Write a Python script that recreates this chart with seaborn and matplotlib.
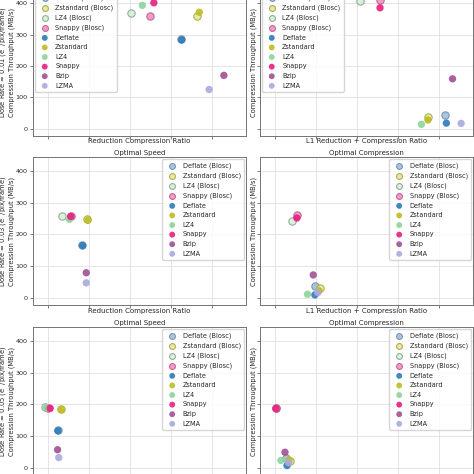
import numpy as np
import pandas as pd
import matplotlib
matplotlib.use("Agg")
import matplotlib.pyplot as plt
import seaborn as sns

# ---------------------------------------------------
# DATOS
# ---------------------------------------------------
METHODS = ['Deflate (Blosc)', 'Zstandard (Blosc)', 'LZ4 (Blosc)', 'Snappy (Blosc)',
           'Deflate', 'Zstandard', 'LZ4', 'Snappy', 'Bzip', 'LZMA']
DOSE_RATES = ['0.01', '0.03', '0.05']

# fila 1: dose rate 0.01
speed_001_x = [4.24, 4.64, 3.02, 3.49, 4.26, 4.69, 3.30, 3.58, 5.29, 4.93]
speed_001_y = [287, 358, 368, 359, 283, 371, 393, 401, 170, 125]
comp_001_x = [5.15, 4.74, 3.08, 3.55, 5.18, 4.73, 4.57, 3.56, 5.33, 5.54]
comp_001_y = [45, 39, 408, 410, 18, 28, 14, 385, 159, 17]

# fila 2: dose rate 0.03
speed_003_x = [1.83, 1.94, 1.34, 1.55, 1.84, 1.97, 1.52, 1.55, 1.93, 1.93]
speed_003_y = [167, 249, 259, 260, 165, 245, 248, 257, 79, 47]
comp_003_x = [1.97, 2.09, 1.41, 1.53, 1.97, 2.07, 1.79, 1.53, 1.93, 2.04]
comp_003_y = [38, 30, 243, 261, 9, 22, 11, 252, 72, 16]

# fila 3: dose rate 0.05
speed_005_x = [1.23, 1.31, 0.93, 1.00, 1.24, 1.32, 0.96, 1.05, 1.23, 1.26]
speed_005_y = [118, 186, 191, 190, 117, 184, 190, 188, 57, 32]
comp_005_x = [1.27, 1.37, 1.01, 1.02, 1.29, 1.34, 1.14, 1.02, 1.24, 1.33]
comp_005_y = [32, 21, 188, 190, 7, 25, 23, 187, 49, 16]
# ---------------------------------------------------

FACE = {'Deflate (Blosc)': '#a3bfdc', 'Zstandard (Blosc)': '#e6e6a4',
        'LZ4 (Blosc)': '#d8eedb', 'Snappy (Blosc)': '#ef94c2',
        'Deflate': '#2b7bba', 'Zstandard': '#bcbd22', 'LZ4': '#8ed49c',
        'Snappy': '#e6207f', 'Bzip': '#a05195', 'LZMA': '#aaaadf'}
EDGE = {'Deflate (Blosc)': '#6f8fb0', 'Zstandard (Blosc)': '#a9a93c',
        'LZ4 (Blosc)': '#8aa88f', 'Snappy (Blosc)': '#c05a8e'}


def build_df(x, y):
    return pd.DataFrame({'method': METHODS, 'ratio': x, 'throughput': y})


def plot_panel(ax, df, title, xlabel, ylabel, legend_loc, show_ylabels, h_px, ylab_px):
    for m in METHODS:
        sub = df[df['method'] == m]
        if m in EDGE:
            sns.scatterplot(data=sub, x='ratio', y='throughput', ax=ax, color=FACE[m],
                            edgecolor=EDGE[m], linewidth=0.8, s=28, alpha=0.9, label=m)
        else:
            sns.scatterplot(data=sub, x='ratio', y='throughput', ax=ax, color=FACE[m],
                            edgecolor='none', s=28, alpha=0.9, label=m)
    ax.set_xlim(0.63, 5.83)
    ax.set_ylim(-23, 445)
    ax.set_xticks([1, 2, 3, 4, 5])
    ax.set_xticklabels([])
    ax.set_yticks([0, 100, 200, 300, 400])
    if not show_ylabels:
        ax.set_yticklabels([])
    ax.tick_params(axis='both', bottom=True, left=True, length=2.5, width=0.6,
                   color='0.4', labelsize=4.6, pad=1.5)
    ax.set_title(title, fontsize=5, y=1 + 4.5 / h_px, va='center', pad=0)
    ax.set_xlabel(xlabel, fontsize=5, va='center')
    ax.xaxis.set_label_coords(0.5, -5.5 / h_px)
    ax.set_ylabel(ylabel, fontsize=4.9, linespacing=1.15, va='center')
    ax.yaxis.set_label_coords(-ylab_px / 213.0, 0.5)
    ax.legend(loc=legend_loc, fontsize=4.7, markerscale=0.8, labelspacing=0.55,
              handletextpad=0.6, borderpad=0.5, borderaxespad=0.3, frameon=True)
    for sp in ax.spines.values():
        sp.set_color('0.45')
        sp.set_linewidth(0.7)
    ax.grid(True, color='0.88', linewidth=0.6)


def main():
    sns.set_theme(style="whitegrid")
    fig = plt.figure(figsize=(4.74, 4.74), dpi=100)

    panels = [
        (speed_001_x, speed_001_y, comp_001_x, comp_001_y),
        (speed_003_x, speed_003_y, comp_003_x, comp_003_y),
        (speed_005_x, speed_005_y, comp_005_x, comp_005_y),
    ]
    # posiciones en pixeles (arriba, abajo) de cada fila
    rows_px = [(-11, 136), (157, 305), (327, 475)]
    W = 474.0
    legend_locs = ['upper left', 'upper right', 'upper right']

    for i, (sx, sy, cx, cy) in enumerate(panels):
        top, bot = rows_px[i]
        h = bot - top
        ax_l = fig.add_axes([33 / W, 1 - bot / W, 213 / W, h / W])
        ax_r = fig.add_axes([260 / W, 1 - bot / W, 213 / W, h / W])
        ylab = 'Dose Rate = ' + DOSE_RATES[i] + r' (e$^{-}$/pix/frame)' + '\nCompression Throughput (MB/s)'
        plot_panel(ax_l, build_df(sx, sy), 'Optimal Speed', 'Reduction Compression Ratio',
                   ylab, legend_locs[i], True, h, 26.5)
        plot_panel(ax_r, build_df(cx, cy), 'Optimal Compression',
                   'L1 Reduction + Compression Ratio', 'Compression Throughput (MB/s)',
                   legend_locs[i], False, h, 6.5)

    fig.savefig('out.png', dpi=100)


if __name__ == "__main__":
    main()
